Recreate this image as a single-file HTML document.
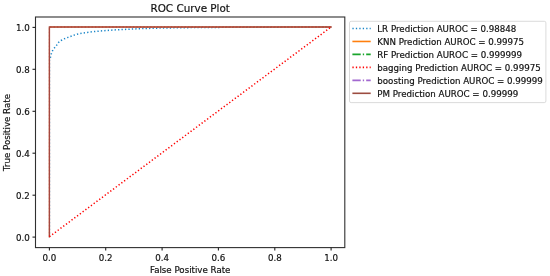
<!DOCTYPE html><html><head><meta charset="utf-8"><title>ROC Curve Plot</title>
<style>html,body{margin:0;padding:0;background:#fff}svg{display:block}text{font-family:"DejaVu Sans","Liberation Sans",sans-serif;fill:#111;stroke:#111;stroke-width:0.18px}</style></head><body>
<svg width="550" height="276" viewBox="0 0 550 276">
<rect width="550" height="276" fill="#fff"/>
<defs><clipPath id="c"><rect x="50" y="20" width="290" height="220"/></clipPath></defs>
<polyline clip-path="url(#c)" points="49.4,237.0 49.4,60.0 49.9,58.6 50.5,57.3 51.3,53.8 52.5,50.8 54.4,47.9 56.6,45.3 58.5,42.5 61.1,40.5 64.1,38.9 67.3,37.6 70.5,36.5 73.5,35.3 77.1,34.2 80.4,33.5 83.6,32.9 87.3,32.4 90.2,32.0 95.3,31.4 106.9,30.5 114.2,29.9 118.5,29.7 132.7,29.0 144.7,28.5 160.0,28.1 175.0,27.8 200.0,27.5 250.0,27.2 331.1,27.0" fill="none" stroke="#1a86c8" stroke-width="1.5" stroke-dasharray="1.30,2.15"/>
<polyline points="49.4,236.7 49.4,27.0 331.1,27.0" fill="none" stroke="#ff7f0e" stroke-width="1" stroke-linejoin="miter"/>
<polyline points="49.4,236.7 49.4,27.0 331.1,27.0" fill="none" stroke="#d62728" stroke-width="1" stroke-dasharray="1.30,2.15"/>
<polyline points="49.4,236.7 49.4,27.0 331.1,27.0" fill="none" stroke="#a5483f" stroke-width="1.4" stroke-linecap="square" stroke-linejoin="miter"/>
<line x1="49.4" y1="236.7" x2="331.1" y2="27.0" stroke="#ff0000" stroke-width="1.5" stroke-dasharray="1.30,2.15"/>
<rect x="35.5" y="17.0" width="309.3" height="230.6" fill="none" stroke="#303030" stroke-width="1.1"/>
<line x1="49.4" y1="247.6" x2="49.4" y2="250.6" stroke="#222" stroke-width="1.1"/>
<text x="49.4" y="260.8" font-size="8.66" text-anchor="middle">0.0</text>
<line x1="32.5" y1="237.1" x2="35.5" y2="237.1" stroke="#222" stroke-width="1.1"/>
<text x="29.9" y="240.7" font-size="8.66" text-anchor="end">0.0</text>
<line x1="105.7" y1="247.6" x2="105.7" y2="250.6" stroke="#222" stroke-width="1.1"/>
<text x="105.7" y="260.8" font-size="8.66" text-anchor="middle">0.2</text>
<line x1="32.5" y1="195.2" x2="35.5" y2="195.2" stroke="#222" stroke-width="1.1"/>
<text x="29.9" y="198.8" font-size="8.66" text-anchor="end">0.2</text>
<line x1="162.1" y1="247.6" x2="162.1" y2="250.6" stroke="#222" stroke-width="1.1"/>
<text x="162.1" y="260.8" font-size="8.66" text-anchor="middle">0.4</text>
<line x1="32.5" y1="153.2" x2="35.5" y2="153.2" stroke="#222" stroke-width="1.1"/>
<text x="29.9" y="156.8" font-size="8.66" text-anchor="end">0.4</text>
<line x1="218.4" y1="247.6" x2="218.4" y2="250.6" stroke="#222" stroke-width="1.1"/>
<text x="218.4" y="260.8" font-size="8.66" text-anchor="middle">0.6</text>
<line x1="32.5" y1="111.3" x2="35.5" y2="111.3" stroke="#222" stroke-width="1.1"/>
<text x="29.9" y="114.9" font-size="8.66" text-anchor="end">0.6</text>
<line x1="274.8" y1="247.6" x2="274.8" y2="250.6" stroke="#222" stroke-width="1.1"/>
<text x="274.8" y="260.8" font-size="8.66" text-anchor="middle">0.8</text>
<line x1="32.5" y1="69.3" x2="35.5" y2="69.3" stroke="#222" stroke-width="1.1"/>
<text x="29.9" y="72.9" font-size="8.66" text-anchor="end">0.8</text>
<line x1="331.1" y1="247.6" x2="331.1" y2="250.6" stroke="#222" stroke-width="1.1"/>
<text x="331.1" y="260.8" font-size="8.66" text-anchor="middle">1.0</text>
<line x1="32.5" y1="27.4" x2="35.5" y2="27.4" stroke="#222" stroke-width="1.1"/>
<text x="29.9" y="31.0" font-size="8.66" text-anchor="end">1.0</text>
<text x="190.2" y="11.7" font-size="10.4" text-anchor="middle">ROC Curve Plot</text>
<text x="190.2" y="272.7" font-size="8.66" text-anchor="middle">False Positive Rate</text>
<text transform="translate(9.8,132.6) rotate(-90)" font-size="8.66" text-anchor="middle">True Positive Rate</text>
<rect x="349.5" y="21.3" width="196.4" height="81.3" rx="1.6" ry="1.6" fill="#fff" fill-opacity="0.8" stroke="#cccccc" stroke-width="0.7"/>
<line x1="352.4" y1="28.50" x2="370.7" y2="28.50" stroke="#1a86c8" stroke-width="1.6" stroke-dasharray="1.30,2.15"/>
<text x="377.3" y="31.80" font-size="8.66">LR Prediction AUROC = 0.98848</text>
<line x1="352.4" y1="41.46" x2="370.7" y2="41.46" stroke="#ff7f0e" stroke-width="1.6"/>
<text x="377.3" y="44.76" font-size="8.66">KNN Prediction AUROC = 0.99975</text>
<line x1="352.4" y1="54.42" x2="370.7" y2="54.42" stroke="#1aa52c" stroke-width="1.6" stroke-dasharray="8.32,2.08,1.30,2.08"/>
<text x="377.3" y="57.72" font-size="8.66">RF Prediction AUROC = 0.999999</text>
<line x1="352.4" y1="67.38" x2="370.7" y2="67.38" stroke="#ff0000" stroke-width="1.6" stroke-dasharray="1.30,2.15"/>
<text x="377.3" y="70.68" font-size="8.66">bagging Prediction AUROC = 0.99975</text>
<line x1="352.4" y1="80.34" x2="370.7" y2="80.34" stroke="#a268d0" stroke-width="1.6" stroke-dasharray="8.32,2.08,1.30,2.08"/>
<text x="377.3" y="83.64" font-size="8.66">boosting Prediction AUROC = 0.99999</text>
<line x1="352.4" y1="93.30" x2="370.7" y2="93.30" stroke="#9c4c40" stroke-width="1.6"/>
<text x="377.3" y="96.60" font-size="8.66">PM Prediction AUROC = 0.99999</text>
</svg></body></html>
